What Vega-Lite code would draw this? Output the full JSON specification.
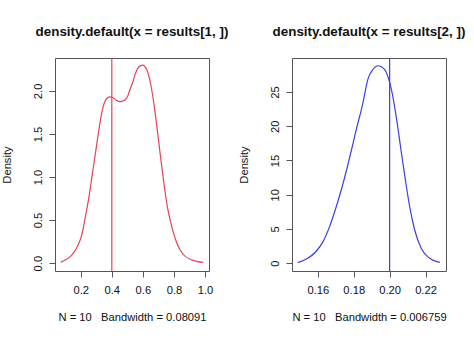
{
  "$schema": "https://vega.github.io/schema/vega-lite/v6.json",
  "background": "white",
  "padding": {"left": 1, "top": 24, "right": 0, "bottom": 0},
  "bounds": "flush",
  "spacing": 83,
  "config": {
    "font": "Liberation Sans",
    "view": {"stroke": "#555", "strokeWidth": 1},
    "axis": {
      "domain": false,
      "grid": false,
      "tickColor": "#555",
      "tickSize": 6,
      "labelOverlap": false,
      "labelFont": "Liberation Sans",
      "labelFontSize": 11.2,
      "labelColor": "#111",
      "titleFont": "Liberation Sans",
      "titleFontSize": 11.2,
      "titleFontWeight": "normal",
      "titleColor": "#111"
    },
    "axisX": {"labelPadding": 7.5, "titlePadding": 15.5, "labelFlush": false},
    "axisY": {"labelAngle": -90, "labelAlign": "center", "labelBaseline": "alphabetic", "labelPadding": 7.6, "titleBaseline": "alphabetic", "titlePadding": 21.8},
    "title": {"font": "Liberation Sans", "fontSize": 13.4, "fontWeight": "bold", "color": "#111", "baseline": "alphabetic", "offset": 19, "anchor": "middle"}
  },
  "datasets": {
    "d1": [
      {"x": 0.071, "y": 0.012}, {"x": 0.10, "y": 0.035}, {"x": 0.129, "y": 0.07}, {"x": 0.15, "y": 0.11},
      {"x": 0.172, "y": 0.17}, {"x": 0.19, "y": 0.24}, {"x": 0.204, "y": 0.31}, {"x": 0.23, "y": 0.54},
      {"x": 0.254, "y": 0.78}, {"x": 0.275, "y": 1.04}, {"x": 0.295, "y": 1.28}, {"x": 0.316, "y": 1.54},
      {"x": 0.337, "y": 1.76}, {"x": 0.359, "y": 1.89}, {"x": 0.387, "y": 1.93}, {"x": 0.408, "y": 1.92},
      {"x": 0.43, "y": 1.89}, {"x": 0.455, "y": 1.875}, {"x": 0.475, "y": 1.885}, {"x": 0.50, "y": 1.93},
      {"x": 0.52, "y": 2.03}, {"x": 0.535, "y": 2.10}, {"x": 0.548, "y": 2.18}, {"x": 0.575, "y": 2.28},
      {"x": 0.598, "y": 2.30}, {"x": 0.624, "y": 2.25}, {"x": 0.650, "y": 2.08}, {"x": 0.671, "y": 1.85},
      {"x": 0.692, "y": 1.56}, {"x": 0.714, "y": 1.23}, {"x": 0.735, "y": 0.93}, {"x": 0.757, "y": 0.66},
      {"x": 0.785, "y": 0.43}, {"x": 0.817, "y": 0.24}, {"x": 0.860, "y": 0.10}, {"x": 0.914, "y": 0.038},
      {"x": 0.989, "y": 0.008}
    ],
    "d2": [
      {"x": 0.1488, "y": 0.08}, {"x": 0.1544, "y": 0.7}, {"x": 0.159, "y": 1.7}, {"x": 0.1628, "y": 3.1},
      {"x": 0.1665, "y": 5.3}, {"x": 0.1702, "y": 8.2}, {"x": 0.174, "y": 11.6}, {"x": 0.1777, "y": 15.4},
      {"x": 0.1814, "y": 19.5}, {"x": 0.1851, "y": 23.4}, {"x": 0.1879, "y": 26.9}, {"x": 0.1907, "y": 28.3},
      {"x": 0.1936, "y": 28.85}, {"x": 0.1969, "y": 28.4}, {"x": 0.1995, "y": 26.9}, {"x": 0.2019, "y": 24.2},
      {"x": 0.2043, "y": 20.3}, {"x": 0.2065, "y": 16.2}, {"x": 0.2088, "y": 12.1}, {"x": 0.2112, "y": 8.2},
      {"x": 0.2140, "y": 4.8}, {"x": 0.2177, "y": 2.1}, {"x": 0.2224, "y": 0.7}, {"x": 0.2280, "y": 0.1}
    ],
    "r1": [{"x": 0.4}],
    "r2": [{"x": 0.2}]
  },
  "hconcat": [
    {
      "width": 154,
      "height": 213,
      "title": {"text": "density.default(x = results[1, ])"},
      "layer": [
        {
          "data": {"name": "d1"},
          "mark": {"type": "line", "color": "#e6425b", "strokeWidth": 1.2, "interpolate": "monotone"},
          "encoding": {
            "x": {"field": "x", "type": "quantitative",
                  "scale": {"domain": [0.0343, 1.0257], "nice": false, "zero": false},
                  "axis": {"values": [0.2, 0.4, 0.6, 0.8, 1.0], "format": ".1f", "labelOverlap": false, "labelBound": false, "title": "N = 10\u00a0\u00a0\u00a0Bandwidth = 0.08091"}},
            "y": {"field": "y", "type": "quantitative",
                  "scale": {"domain": [-0.0916, 2.382], "nice": false, "zero": false},
                  "axis": {"values": [0, 0.5, 1, 1.5, 2], "format": ".1f", "labelOverlap": false, "title": "Density"}}
          }
        },
        {
          "data": {"name": "r1"},
          "mark": {"type": "rule", "color": "#e6425b", "strokeWidth": 1.2},
          "encoding": {"x": {"field": "x", "type": "quantitative",
                  "axis": {"values": [0.2, 0.4, 0.6, 0.8, 1.0], "format": ".1f", "labelOverlap": false, "labelBound": false, "title": "N = 10\u00a0\u00a0\u00a0Bandwidth = 0.08091"}}}
        }
      ]
    },
    {
      "width": 154,
      "height": 213,
      "title": {"text": "density.default(x = results[2, ])"},
      "layer": [
        {
          "data": {"name": "d2"},
          "mark": {"type": "line", "color": "#3d3de4", "strokeWidth": 1.2, "interpolate": "monotone"},
          "encoding": {
            "x": {"field": "x", "type": "quantitative",
                  "scale": {"domain": [0.1456, 0.2314], "nice": false, "zero": false},
                  "axis": {"values": [0.16, 0.18, 0.2, 0.22], "format": ".2f", "labelOverlap": false, "title": "N = 10\u00a0\u00a0\u00a0Bandwidth = 0.006759"}},
            "y": {"field": "y", "type": "quantitative",
                  "scale": {"domain": [-1.153, 29.98], "nice": false, "zero": false},
                  "axis": {"values": [0, 5, 10, 15, 20, 25], "format": "d", "labelOverlap": false, "title": "Density"}}
          }
        },
        {
          "data": {"name": "r2"},
          "mark": {"type": "rule", "color": "#3d3de4", "strokeWidth": 1.2},
          "encoding": {"x": {"field": "x", "type": "quantitative",
                  "axis": {"values": [0.16, 0.18, 0.2, 0.22], "format": ".2f", "labelOverlap": false, "title": "N = 10\u00a0\u00a0\u00a0Bandwidth = 0.006759"}}}
        }
      ]
    }
  ]
}
